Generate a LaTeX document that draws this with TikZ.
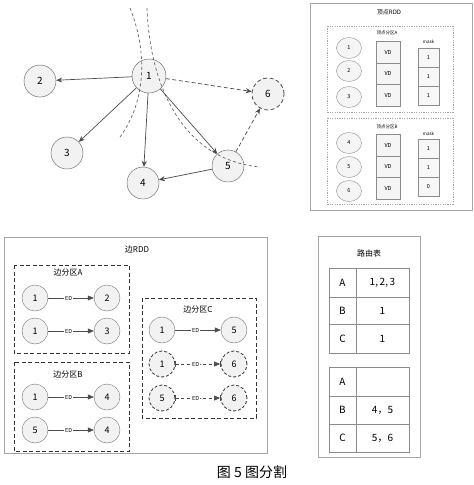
\documentclass[tikz,border=0pt]{standalone}
\usepackage{fontspec}
\setmainfont{Noto Sans CJK SC}
\usetikzlibrary{arrows.meta,shapes.geometric}
\tikzset{
  gnode/.style={circle, draw=black!65, fill=black!5, minimum size=32pt, inner sep=0pt, font=\fontsize{10}{10}\selectfont},
  garrow/.style={draw=black!70, line width=0.7pt, -{Stealth[length=6pt,width=5pt]}},
  gdash/.style={garrow, dash pattern=on 4pt off 2.5pt},
  cutline/.style={draw=black!60, line width=0.7pt, dash pattern=on 3pt off 2.5pt},
  lightbox/.style={draw=black!35, line width=0.6pt},
  vdash/.style={draw=black!35, line width=0.5pt, dash pattern=on 1.2pt off 1.2pt},
  vnode/.style={ellipse, draw=black!45, fill=black!4, minimum width=25pt, minimum height=21pt, inner sep=0pt, font=\fontsize{5.5}{6}\selectfont},
  vdcell/.style={rectangle, draw=black!45, fill=black!4, minimum width=24pt, minimum height=21.5pt, inner sep=0pt, font=\fontsize{5.5}{6}\selectfont},
  maskcell/.style={rectangle, draw=black!45, fill=black!3, minimum width=21pt, minimum height=19pt, inner sep=0pt, font=\fontsize{5.5}{6}\selectfont},
  tiny/.style={font=\fontsize{4.5}{5}\selectfont, inner sep=0pt},
  partbox/.style={draw=black!80, line width=1pt, dash pattern=on 4pt off 2.5pt},
  enode/.style={circle, draw=black!55, fill=black!5, minimum size=26pt, inner sep=0pt, font=\fontsize{9}{9}\selectfont},
  edashnode/.style={enode, draw=black!80, line width=0.8pt, dash pattern=on 3pt off 2pt},
  earrow/.style={draw=black!70, line width=0.5pt, -{Triangle[length=6pt,width=5pt]}},
  edarrow/.style={draw=black!70, line width=0.5pt, dash pattern=on 3pt off 2.5pt, {Bar[width=6pt]}-{Triangle[length=6pt,width=5pt]Bar[width=6pt]}},
  edlabel/.style={pos=0.45, fill=white, inner sep=0.8pt, font=\fontsize{5.5}{6}\selectfont},
  titlefont/.style={font=\fontsize{8}{8}\selectfont, inner sep=0pt},
  tcell/.style={font=\fontsize{10}{10}\selectfont, inner sep=0pt},
  tline/.style={draw=black!45, line width=0.6pt}
}
\begin{document}
\begin{tikzpicture}[x=1pt,y=-1pt]
\useasboundingbox (0,0) rectangle (474,485);
% ---------- graph ----------
\node[gnode, minimum size=34pt] (g1) at (149,76) {1};
\node[gnode] (g2) at (40,81) {2};
\node[gnode] (g3) at (67,153) {3};
\node[gnode] (g4) at (143,183) {4};
\node[gnode] (g5) at (228,166) {5};
\node[gnode, draw=black!70, line width=0.8pt, dash pattern=on 4pt off 2.5pt] (g6) at (268,94) {6};
\draw[cutline] (130,8) .. controls (147,50) and (147,100) .. (120,137);
\draw[cutline] (147,8) .. controls (150,90) and (185,160) .. (260,167);
\draw[garrow] (g1) -- (g2);
\draw[garrow] (g1) -- (g3);
\draw[garrow] (g1) -- (g4);
\draw[garrow] (g1) -- (g5);
\draw[garrow] (g5) -- (g4);
\draw[gdash] (g1) -- (g6);
\draw[gdash] (g5) -- (g6);
% ---------- vertex RDD ----------
\draw[lightbox] (310,3) rectangle (472,210);
\node[titlefont, font=\fontsize{6}{6}\selectfont] (vtitle) at (389,12) {顶点RDD};
\draw[vdash] (327,26) rectangle (453,112);
\draw[vdash] (327,118) rectangle (453,204);
\node[tiny] (vta) at (387,33) {顶点分区A};
\node[tiny] (vtb) at (387,127) {顶点分区B};
\node[tiny] (vma) at (428.5,42) {mask};
\node[tiny] (vmb) at (428.5,134) {mask};
\node[vnode] (v1) at (349,48) {1};
\node[vnode] (v2) at (349,71) {2};
\node[vnode] (v3) at (349,97) {3};
\node[vnode] (v4) at (349,143) {4};
\node[vnode] (v5) at (349,167) {5};
\node[vnode] (v6) at (349,191) {6};
\node[vdcell] (vd1) at (388,52) {VD};
\node[vdcell] (vd2) at (388,73.5) {VD};
\node[vdcell] (vd3) at (388,95) {VD};
\node[vdcell] (vd4) at (388,145) {VD};
\node[vdcell] (vd5) at (388,166.5) {VD};
\node[vdcell] (vd6) at (388,188) {VD};
\node[maskcell] (m1) at (428.5,57.5) {1};
\node[maskcell] (m2) at (428.5,76.5) {1};
\node[maskcell] (m3) at (428.5,95.5) {1};
\node[maskcell] (m4) at (428.5,149) {1};
\node[maskcell] (m5) at (428.5,168) {1};
\node[maskcell] (m6) at (428.5,187) {0};
% ---------- edge RDD ----------
\draw[lightbox] (4,237) rectangle (267,453);
\node[titlefont] (etitle) at (137,250) {边RDD};
\draw[partbox] (14,265) rectangle (129,353);
\draw[partbox] (14,362) rectangle (129,451);
\draw[partbox] (142,298) rectangle (256,418);
\node[titlefont] (eta) at (68,273) {边分区A};
\node[titlefont] (etb) at (68,375) {边分区B};
\node[titlefont] (etc) at (198,310) {边分区C};
\node[enode] (a11) at (35,298) {1};
\node[enode] (a12) at (107,298) {2};
\node[enode] (a21) at (35,331) {1};
\node[enode] (a22) at (107,331) {3};
\node[enode] (b11) at (35,397) {1};
\node[enode] (b12) at (107,397) {4};
\node[enode] (b21) at (35,430) {5};
\node[enode] (b22) at (107,430) {4};
\node[enode] (c11) at (162,330) {1};
\node[enode] (c12) at (234,330) {5};
\node[edashnode] (c21) at (162,364) {1};
\node[edashnode] (c22) at (234,364) {6};
\node[edashnode] (c31) at (162,398) {5};
\node[edashnode] (c32) at (234,398) {6};
\draw[earrow] (a11) -- node[edlabel] {ED} (a12);
\draw[earrow] (a21) -- node[edlabel] {ED} (a22);
\draw[earrow] (b11) -- node[edlabel] {ED} (b12);
\draw[earrow] (b21) -- node[edlabel] {ED} (b22);
\draw[earrow] (c11) -- node[edlabel] {ED} (c12);
\draw[edarrow] (c21) -- node[edlabel] {ED} (c22);
\draw[edarrow] (c31) -- node[edlabel] {ED} (c32);
% ---------- routing table ----------
\draw[lightbox] (318,236) rectangle (420,457);
\node[titlefont] (rtitle) at (369,253) {路由表};
\draw[tline] (329,268) rectangle (409,353);
\draw[tline] (356,268) -- (356,353);
\draw[tline] (329,297) -- (409,297);
\draw[tline] (329,324) -- (409,324);
\draw[tline] (329,367) rectangle (409,452);
\draw[tline] (356,367) -- (356,452);
\draw[tline] (329,396) -- (409,396);
\draw[tline] (329,424) -- (409,424);
\node[tcell] (r1a) at (342.5,282.5) {A};
\node[tcell] (r1b) at (382.5,282.5) {1,\,2,\,3};
\node[tcell] (r2a) at (342.5,310.5) {B};
\node[tcell] (r2b) at (382.5,310.5) {1};
\node[tcell] (r3a) at (342.5,338.5) {C};
\node[tcell] (r3b) at (382.5,338.5) {1};
\node[tcell] (r4a) at (342.5,381.5) {A};
\node[tcell] (r5a) at (342.5,410) {B};
\node[tcell] (r5b) at (382.5,410) {4，5};
\node[tcell] (r6a) at (342.5,438) {C};
\node[tcell] (r6b) at (382.5,438) {5，6};
% ---------- caption ----------
\node[inner sep=0pt, font=\fontsize{14}{14}\selectfont] (cap) at (252,472) {图 5 图分割};
\end{tikzpicture}
\end{document}
